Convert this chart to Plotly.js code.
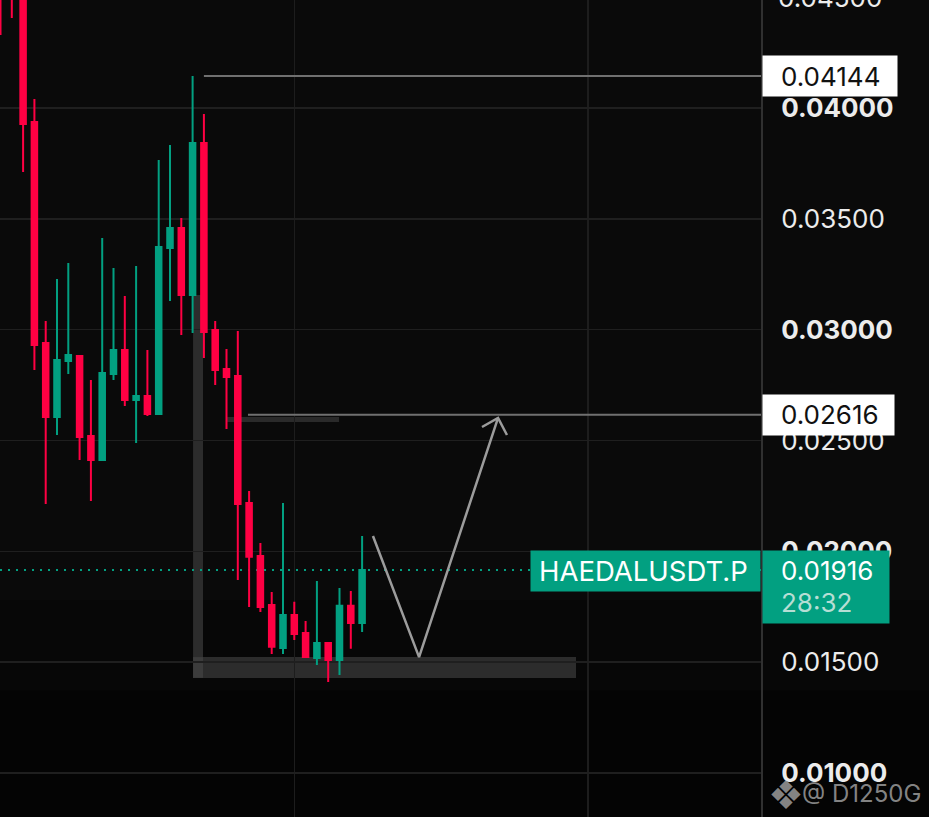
<!DOCTYPE html>
<html>
<head>
<meta charset="utf-8">
<script src="https://cdn.plot.ly/plotly-3.0.1.min.js"></script>
<style>
html,body{margin:0;padding:0;background:#0a0a0a;}
#chart{width:929px;height:817px;}
</style>
</head>
<body>
<div id="chart"></div>
<script>
// ---- candle data (bar index, OHLC) ----
var barIndex = [0,1,2,3,4,5,6,7,8,9,10,11,12,13,14,15,16,17,18,19,20,21,22,23,24,25,26,27,28,29,30,31,32];
var openP  = [0.0478,0.0466,0.0459,0.03937,0.02940,0.02606,0.02859,0.02881,0.02520,0.02412,0.02800,0.02908,0.02683,0.02701,0.02620,0.03368,0.03459,0.03156,0.03842,0.02999,0.02823,0.02791,0.02218,0.01979,0.01758,0.01564,0.01713,0.01632,0.01519,0.01587,0.01510,0.01754,0.01677];
var highP  = [0.0482,0.0471,0.0463,0.04041,0.03039,0.03229,0.03301,0.02885,0.02773,0.03414,0.03278,0.03152,0.03287,0.02908,0.03765,0.03833,0.03504,0.04144,0.03973,0.03039,0.02913,0.02994,0.02272,0.02038,0.01817,0.02218,0.01772,0.01686,0.01866,0.01590,0.01835,0.01821,0.02069];
var lowP   = [0.04329,0.04406,0.03711,0.02818,0.02214,0.02525,0.02800,0.02412,0.02227,0.02410,0.02773,0.02656,0.02489,0.02611,0.02618,0.03129,0.02976,0.02985,0.02872,0.02750,0.02552,0.01871,0.01749,0.01726,0.01537,0.01537,0.01600,0.01519,0.01487,0.01411,0.01442,0.01560,0.01636];
var closeP = [0.0462,0.0459,0.03928,0.02931,0.02606,0.02863,0.02886,0.02516,0.02412,0.02805,0.02908,0.02683,0.02701,0.02620,0.03373,0.03459,0.03156,0.03842,0.02990,0.02818,0.02787,0.02214,0.01975,0.01749,0.01569,0.01713,0.01627,0.01523,0.01587,0.01510,0.01754,0.01677,0.01916];

// ---- axis ticks ----
var yTickVals = [0.010,0.015,0.020,0.025,0.030,0.035,0.040];
var yTickText = ["<b>0.01000</b>","0.01500","<b>0.02000</b>","0.02500","<b>0.03000</b>","0.03500","<b>0.04000</b>"];
var topTickVal = 0.045, topTickText = "0.04500";
var timeGridBars = [0,26,52];

// ---- drawings ----
var levelPrices = [0.04144, 0.02616];
var levelStartBar = [18.0, 21.9];
var levelLabels = ["0.04144","0.02616"];
var lastPrice = 0.01916, lastLabel = "0.01916", countdown = "28:32", symbol = "HAEDALUSDT.P";
var zoneX = [17.04, 50.93], zoneY = [0.01429, 0.01523];
var legX = [17.04, 17.92], legY = [0.01429, 0.03156];
var markX = [20.05, 29.96], markY = [0.02584, 0.02606];
var pathX = [32.96, 37.04, 44.03], pathY = [0.02069, 0.01523, 0.02602];
var headX = [42.61, 44.03, 44.82], headY = [0.02561, 0.02602, 0.02525];

var xr = [-0.044, 67.30];
var yr = [0.008015, 0.044872];
var GREEN = '#02a081', RED = '#ff0043';
var FONT = 'Inter, Roboto, sans-serif';

var traces = [
  {
    type:'candlestick', x:barIndex, open:openP, high:highP, low:lowP, close:closeP,
    increasing:{line:{color:GREEN,width:2}, fillcolor:GREEN},
    decreasing:{line:{color:RED,width:2}, fillcolor:RED},
    whiskerwidth:0, hoverinfo:'skip', showlegend:false
  },
  {type:'scatter', mode:'lines', x:pathX, y:pathY, line:{color:'#9c9c9c', width:2.5}, hoverinfo:'skip', showlegend:false},
  {type:'scatter', mode:'lines', x:headX, y:headY, line:{color:'#9c9c9c', width:2.5}, hoverinfo:'skip', showlegend:false}
];

var shapes = [
  // background shading
  {type:'rect', xref:'paper', yref:'paper', x0:0, x1:1.3, y0:0.155, y1:0.2656, fillcolor:'#070707', line:{width:0}, layer:'below'},
  {type:'rect', xref:'paper', yref:'paper', x0:0, x1:1.3, y0:-0.01, y1:0.155, fillcolor:'#040404', line:{width:0}, layer:'below'},
  // zones
  {type:'rect', xref:'x', yref:'y', x0:zoneX[0], x1:zoneX[1], y0:zoneY[0], y1:zoneY[1], fillcolor:'#2c2c2c', line:{width:0}, layer:'below'},
  {type:'rect', xref:'x', yref:'y', x0:legX[0], x1:legX[1], y0:legY[0], y1:legY[1], fillcolor:'#2c2c2c', line:{width:0}, layer:'below'},
  {type:'rect', xref:'x', yref:'y', x0:legX[0], x1:legX[1], y0:zoneY[0], y1:zoneY[1], fillcolor:'#3c3c3c', line:{width:0}, layer:'below'},
  {type:'rect', xref:'x', yref:'y', x0:markX[0], x1:markX[1], y0:markY[0], y1:markY[1], fillcolor:'#2a2a2a', line:{width:0}, layer:'below'},
  // last price dotted line
  {type:'line', xref:'x', yref:'y', x0:xr[0], x1:xr[1], y0:lastPrice, y1:lastPrice, line:{color:GREEN, width:2, dash:'2px,6px'}, layer:'below'}
];
levelPrices.forEach(function(p,i){
  shapes.push({type:'line', xref:'x', yref:'y', x0:levelStartBar[i], x1:xr[1], y0:p, y1:p, line:{color:'#707070', width:2}, layer:'above'});
});

var annotations = [];
function box(y, yanchor, yshift, w, h, color, xanchor){
  annotations.push({xref:'paper', yref:'y', x:1, y:y, xanchor:xanchor||'left', yanchor:yanchor, xshift:(xanchor==='right'?0:1), yshift:yshift,
    text:' ', width:w, height:h, bgcolor:color, borderpad:0, showarrow:false});
}
function label(y, txt, color, xshift, yshift, size){
  annotations.push({xref:'paper', yref:'y', x:1, y:y, xanchor:'left', yanchor:'middle', xshift:xshift, yshift:yshift||0,
    text:txt, showarrow:false, font:{family:FONT, size:size||26, color:color}});
}
levelPrices.forEach(function(p,i){
  box(p, 'middle', 0, i===0?134:131, 40, '#ffffff');
  label(p, levelLabels[i], '#111111', 18, 0);
});
// last price boxes
box(lastPrice, 'top', 20, 126, 72, GREEN);
box(lastPrice, 'top', 20, 229, 40, GREEN, 'right');
label(lastPrice, lastLabel, '#ffffff', 18, -1);
label(lastPrice, countdown, '#b6ded4', 18, -33);
label(lastPrice, symbol, '#ffffff', -224, -1, 27.5);
// top partial tick label
annotations.push({xref:'paper', yref:'paper', x:1, y:(topTickVal-yr[0])/(yr[1]-yr[0]), xanchor:'left', yanchor:'middle', xshift:15,
  text:topTickText, showarrow:false, font:{family:FONT, size:26, color:'#ececec'}});
// watermark
annotations.push({xref:'paper', yref:'paper', x:1.006, y:0.027, xanchor:'left', yanchor:'middle', text:'❖', showarrow:false,
  font:{family:'DejaVu Sans', size:40, color:'rgba(190,190,190,0.7)'}});
annotations.push({xref:'paper', yref:'paper', x:1.051, y:0.029, xanchor:'left', yanchor:'middle', text:'@ D1250G', showarrow:false,
  font:{family:FONT, size:24, color:'rgba(190,190,190,0.7)'}});

var layout = {
  width:929, height:817,
  margin:{l:0, r:168, t:0, b:0, pad:0},
  paper_bgcolor:'#0a0a0a', plot_bgcolor:'rgba(0,0,0,0)',
  showlegend:false, hovermode:false,
  xaxis:{range:xr, showticklabels:false, tickvals:timeGridBars, showgrid:true, gridcolor:'#1d1d1d', gridwidth:1.5,
    zeroline:false, showline:false, ticks:'', rangeslider:{visible:false}, fixedrange:true},
  yaxis:{range:yr, side:'right', tickvals:yTickVals, ticktext:yTickText, tickfont:{family:FONT, size:26, color:'#ececec'},
    showgrid:true, gridcolor:'#1f1f1f', gridwidth:1.5, zeroline:false, showline:true, linecolor:'#303030', linewidth:2,
    ticks:'', ticklabelstandoff:13, fixedrange:true},
  shapes:shapes, annotations:annotations
};

Plotly.newPlot('chart', traces, layout, {staticPlot:true, displayModeBar:false});
</script>
</body>
</html>
